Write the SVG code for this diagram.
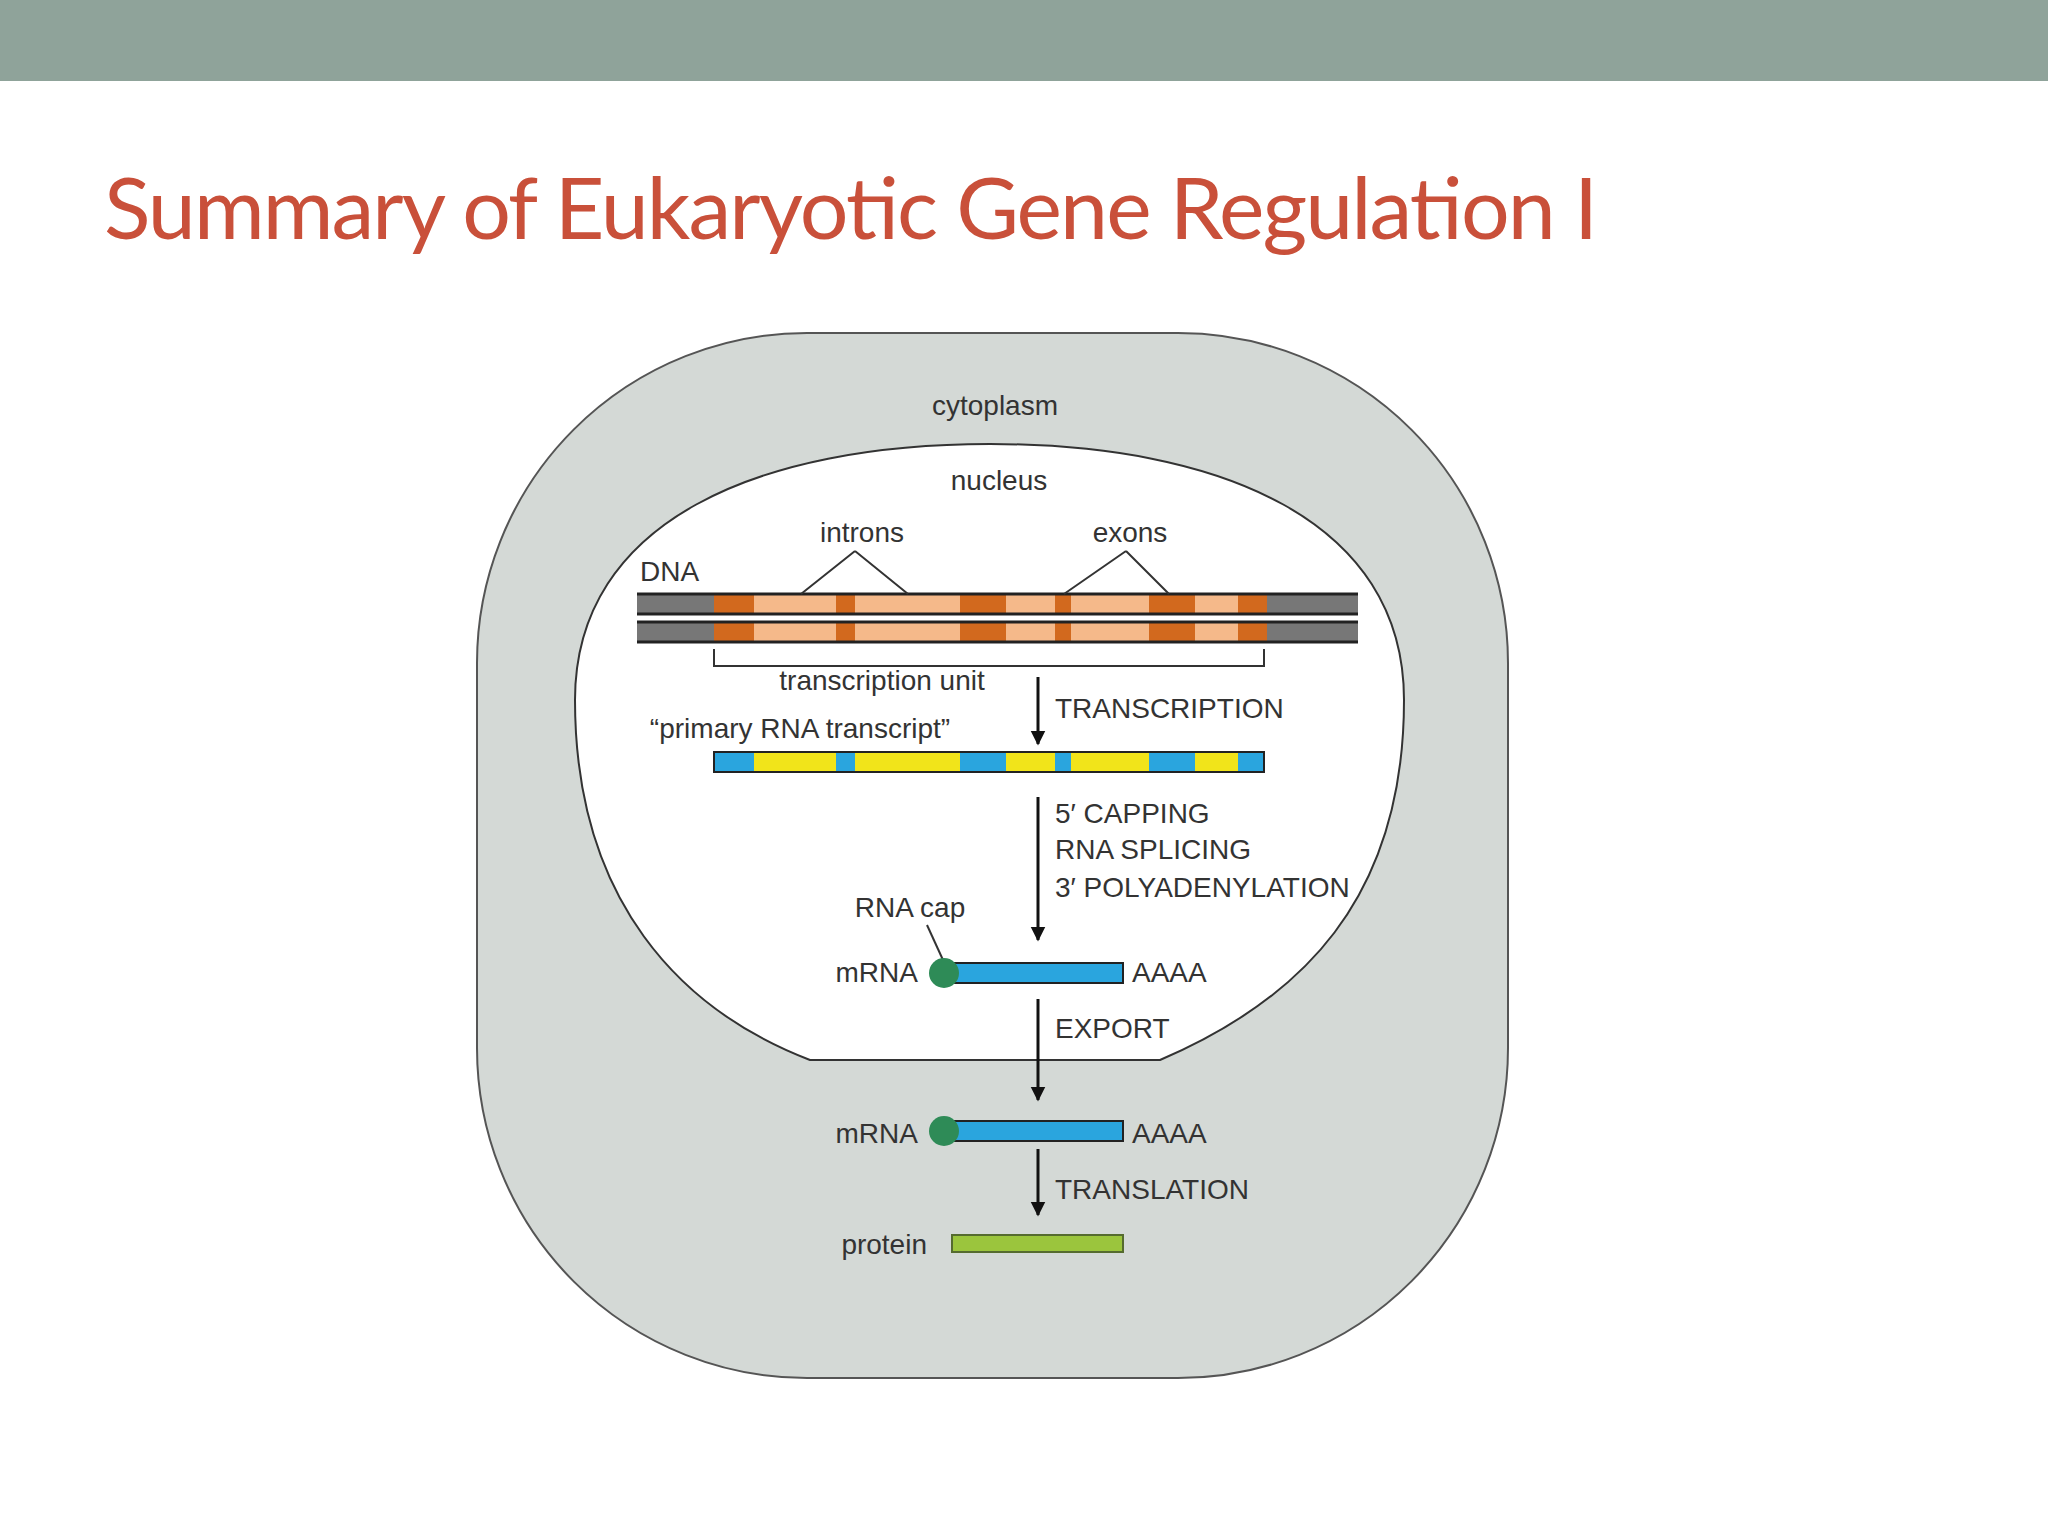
<svg xmlns="http://www.w3.org/2000/svg" width="2048" height="1536" viewBox="0 0 2048 1536">
<defs>
<style>
.t{font-family:"Liberation Sans",Arial,sans-serif;font-size:28px;fill:#333}
.m{text-anchor:middle}
.e{text-anchor:end}
.ln{stroke:#333;stroke-width:2;fill:none}
.ar{stroke:#111;stroke-width:3;fill:none;marker-end:url(#ah)}
.dk{fill:#d2691e}
.lt{fill:#f5b98a}
.bl{fill:#2aa5de}
.ye{fill:#f1e41a}
</style>
<marker id="ah" viewBox="0 0 10 10" refX="9" refY="5" markerWidth="5" markerHeight="6" orient="auto" markerUnits="strokeWidth"><path d="M0,0 L10,5 L0,10 Z" fill="#111"/></marker>
</defs>
<rect width="2048" height="1536" fill="#fff"/>
<rect width="2048" height="81" fill="#8fa39a"/>
<text x="104" y="239" font-family="Lato,'Open Sans',sans-serif" font-size="86" fill="#c9503a" textLength="1494">Summary of  Eukaryotic Gene Regulation I</text>
<g id="cell"><rect x="477" y="333" width="1031" height="1045" rx="330" fill="#d4d9d6" stroke="#555" stroke-width="2"/></g>
<g id="nucleus"><path d="M575,700 C575,520 760,444 990,444 C1220,444 1404,520 1404,700 C1404,900 1300,1000 1160,1060 L810,1060 C680,1010 575,900 575,700 Z" fill="#fff" stroke="#333" stroke-width="2"/></g>
<g id="labels">
<text class="t m" x="995" y="415">cytoplasm</text>
<text class="t m" x="999" y="490">nucleus</text>
<text class="t m" x="862" y="542">introns</text>
<text class="t m" x="1130" y="542">exons</text>
<text class="t" x="640" y="581">DNA</text>
</g>
<g id="dna">
<rect x="637" y="594" width="721" height="20" fill="#777"/>
<rect x="637" y="622" width="721" height="20" fill="#777"/>
<rect class="lt" x="714" y="594" width="553" height="20"/>
<rect class="lt" x="714" y="622" width="553" height="20"/>
<g class="dk">
<rect x="714" y="594" width="40" height="20"/><rect x="714" y="622" width="40" height="20"/>
<rect x="836" y="594" width="19" height="20"/><rect x="836" y="622" width="19" height="20"/>
<rect x="960" y="594" width="46" height="20"/><rect x="960" y="622" width="46" height="20"/>
<rect x="1055" y="594" width="16" height="20"/><rect x="1055" y="622" width="16" height="20"/>
<rect x="1149" y="594" width="46" height="20"/><rect x="1149" y="622" width="46" height="20"/>
<rect x="1238" y="594" width="29" height="20"/><rect x="1238" y="622" width="29" height="20"/>
</g>
<path d="M637,594 H1358 M637,614 H1358 M637,622 H1358 M637,642 H1358" stroke="#222" stroke-width="3"/>
</g>
<g id="bracket"><path class="ln" d="M714,649 V666 H1264 V649"/><text class="t m" x="882" y="690">transcription unit</text></g>
<g id="primary">
<text class="t m" x="800" y="738">“primary RNA transcript”</text>
<rect class="ye" x="714" y="752" width="550" height="20"/>
<g class="bl"><rect x="714" y="752" width="40" height="20"/><rect x="836" y="752" width="19" height="20"/><rect x="960" y="752" width="46" height="20"/><rect x="1055" y="752" width="16" height="20"/><rect x="1149" y="752" width="46" height="20"/><rect x="1238" y="752" width="26" height="20"/></g>
<rect x="714" y="752" width="550" height="20" fill="none" stroke="#222" stroke-width="2"/>
</g>
<g id="mrna1">
<text class="t m" x="910" y="917">RNA cap</text>
<path class="ln" d="M927,925 L943,960"/>
<text class="t e" x="918" y="982">mRNA</text>
<rect class="bl" x="951" y="963" width="172" height="20" stroke="#222" stroke-width="2"/>
<circle cx="944" cy="973" r="15" fill="#2e8b57"/>
<text class="t" x="1132" y="982">AAAA</text>
</g>
<g id="mrna2">
<text class="t e" x="918" y="1143">mRNA</text>
<rect class="bl" x="951" y="1121" width="172" height="20" stroke="#222" stroke-width="2"/>
<circle cx="944" cy="1131" r="15" fill="#2e8b57"/>
<text class="t" x="1132" y="1143">AAAA</text>
</g>
<g id="protein">
<text class="t e" x="927" y="1254">protein</text>
<rect x="952" y="1235" width="171" height="17" fill="#9bc53d" stroke="#556b2f" stroke-width="2"/>
</g>
<g id="connectors">
<path class="ln" d="M855,551 L801,594 M855,551 L908,594 M1126,551 L1064,594 M1126,551 L1169,594"/>
<path class="ar" d="M1038,677 V744"/>
<path class="ar" d="M1038,797 V940"/>
<path class="ar" d="M1038,999 V1100"/>
<path class="ar" d="M1038,1149 V1215"/>
</g>
<g id="steps">
<text class="t" x="1055" y="718">TRANSCRIPTION</text>
<text class="t" x="1055" y="823">5′ CAPPING</text>
<text class="t" x="1055" y="859">RNA SPLICING</text>
<text class="t" x="1055" y="897">3′ POLYADENYLATION</text>
<text class="t" x="1055" y="1038">EXPORT</text>
<text class="t" x="1055" y="1199">TRANSLATION</text>
</g>
</svg>
